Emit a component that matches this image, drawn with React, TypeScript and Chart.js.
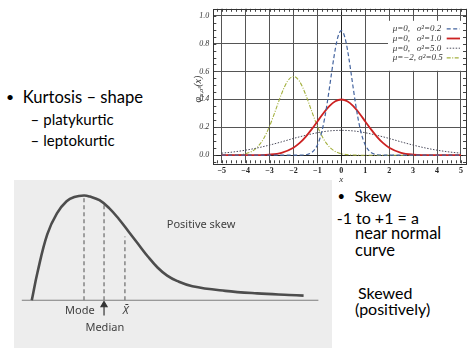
import React, { useEffect, useRef } from "react";
import { Chart, registerables } from "chart.js";

Chart.register(...registerables);

// ---------- Top chart: normal density curves ----------
const xTickValues = [-5, -4, -3, -2, -1, 0, 1, 2, 3, 4, 5];
const yTickValues = [0, 0.2, 0.4, 0.6, 0.8, 1.0];

const seriesLabels = ["μ=0,   σ²=0.2", "μ=0,   σ²=1.0", "μ=0,   σ²=5.0", "μ=−2, σ²=0.5"];

const xSigma02 = [-5, -2, -1.6, -1.4, -1.2, -1, -0.9, -0.8, -0.7, -0.6, -0.5, -0.4, -0.3, -0.2, -0.1, 0, 0.1, 0.2, 0.3, 0.4, 0.5, 0.6, 0.7, 0.8, 0.9, 1, 1.2, 1.4, 1.6, 2, 5];
const ySigma02 = [0, 0, 0.0015, 0.0066, 0.0244, 0.0732, 0.118, 0.18, 0.262, 0.363, 0.478, 0.598, 0.712, 0.807, 0.87, 0.892, 0.87, 0.807, 0.712, 0.598, 0.478, 0.363, 0.262, 0.18, 0.118, 0.0732, 0.0244, 0.0066, 0.0015, 0, 0];

const xSigma1 = [-5, -4, -3.5, -3, -2.5, -2, -1.75, -1.5, -1.25, -1, -0.75, -0.5, -0.25, 0, 0.25, 0.5, 0.75, 1, 1.25, 1.5, 1.75, 2, 2.5, 3, 3.5, 4, 5];
const ySigma1 = [0, 0.0001, 0.0009, 0.0044, 0.0175, 0.054, 0.0863, 0.13, 0.183, 0.242, 0.301, 0.352, 0.387, 0.399, 0.387, 0.352, 0.301, 0.242, 0.183, 0.13, 0.0863, 0.054, 0.0175, 0.0044, 0.0009, 0.0001, 0];

const xSigma5 = [-5, -4.5, -4, -3.5, -3, -2.5, -2, -1.5, -1, -0.5, 0, 0.5, 1, 1.5, 2, 2.5, 3, 3.5, 4, 4.5, 5];
const ySigma5 = [0.0146, 0.0235, 0.036, 0.0524, 0.0725, 0.0955, 0.12, 0.142, 0.161, 0.174, 0.178, 0.174, 0.161, 0.142, 0.12, 0.0955, 0.0725, 0.0524, 0.036, 0.0235, 0.0146];

const xMuMinus2 = [-5, -4.5, -4, -3.75, -3.5, -3.25, -3, -2.75, -2.5, -2.25, -2, -1.75, -1.5, -1.25, -1, -0.75, -0.5, -0.25, 0, 0.5, 1, 5];
const yMuMinus2 = [0.0001, 0.0011, 0.0103, 0.0264, 0.0595, 0.118, 0.208, 0.321, 0.439, 0.53, 0.564, 0.53, 0.439, 0.321, 0.208, 0.118, 0.0595, 0.0264, 0.0103, 0.0011, 0.0001, 0];

// ---------- Bottom figure: positive skew ----------
const skewX = [1.1, 1.7, 2.7, 3.7, 4.7, 5.5, 6.5, 7.1, 8.1, 9.1, 10.1, 11.1, 12.1, 13.1, 14.1, 15.1, 16.1, 17.7, 21.1, 24.4, 27.7, 29.2];
const skewY = [0, 0.27, 0.63, 0.83, 0.945, 0.985, 1.0, 0.99, 0.955, 0.88, 0.776, 0.657, 0.537, 0.418, 0.313, 0.235, 0.185, 0.134, 0.09, 0.066, 0.051, 0.045];
const baselineX = [0.07, 30.73];
const markerX = [6.5, 8.57, 10.73];
const markerTop = [1.0, 0.91, 0.61];
const medianArrowY = [-0.146, -0.045];
const skewLabels = ["Mode", "X̄", "Median", "Positive skew"];
const skewLabelX = [6.07, 10.8, 8.65, 18.6];
const skewLabelY = [-0.104, -0.104, -0.26, 0.716];

const pts = (xs: number[], ys: number[]) => xs.map((x, i) => ({ x, y: ys[i] }));

const SERIF = '"Liberation Serif", "DejaVu Serif", serif';

const topDecor = {
  id: "topDecor",
  afterDatasetsDraw(chart: any) {
    const { ctx, chartArea: a } = chart;
    const boxL = a.right - 78;
    const boxT = a.top + 12;
    ctx.save();
    ctx.fillStyle = "#ffffff";
    ctx.fillRect(boxL, boxT, 78, 50);
    ctx.font = `italic 9px ${SERIF}`;
    ctx.textBaseline = "middle";
    ctx.textAlign = "left";
    chart.data.datasets.forEach((ds: any, i: number) => {
      const y = boxT + 8 + i * 9.7;
      ctx.fillStyle = "#333";
      ctx.fillText(ds.label, boxL + 4.7, y);
      ctx.strokeStyle = ds.borderColor;
      ctx.lineWidth = ds.borderWidth;
      ctx.setLineDash(ds.borderDash || []);
      ctx.beginPath();
      ctx.moveTo(boxL + 58.7, y);
      ctx.lineTo(boxL + 72, y);
      ctx.stroke();
    });
    ctx.restore();
  },
  afterDraw(chart: any) {
    const { ctx, chartArea: a, scales } = chart;
    const xs = scales.x;
    const ys = scales.y;
    ctx.save();
    // minor ticks
    ctx.strokeStyle = "#444";
    ctx.lineWidth = 1;
    ctx.beginPath();
    for (let v = -5.2; v <= 5.21; v += 0.2) {
      const px = Math.round(xs.getPixelForValue(v)) + 0.5;
      ctx.moveTo(px, a.bottom);
      ctx.lineTo(px, a.bottom - 3);
      ctx.moveTo(px, a.top);
      ctx.lineTo(px, a.top + 3);
    }
    for (let v = -0.05; v <= 1.051; v += 0.05) {
      const py = Math.round(ys.getPixelForValue(v)) + 0.5;
      ctx.moveTo(a.left, py);
      ctx.lineTo(a.left + 3, py);
      ctx.moveTo(a.right, py);
      ctx.lineTo(a.right - 3, py);
    }
    ctx.stroke();
    // frame
    ctx.strokeStyle = "#333";
    ctx.strokeRect(Math.round(a.left) + 0.5, Math.round(a.top) + 0.5, Math.round(a.right - a.left), Math.round(a.bottom - a.top));
    // x title
    ctx.fillStyle = "#333";
    ctx.font = `italic 9px ${SERIF}`;
    ctx.textAlign = "center";
    ctx.textBaseline = "middle";
    ctx.fillText("x", xs.getPixelForValue(0), a.bottom + 16.7);
    // y title with subscript
    ctx.translate(a.left - 15.6, (a.top + a.bottom) / 2 + 3);
    ctx.rotate(-Math.PI / 2);
    ctx.textAlign = "left";
    ctx.textBaseline = "alphabetic";
    const bigFont = `italic 10px ${SERIF}`;
    const subFont = `italic 6.5px ${SERIF}`;
    ctx.font = bigFont;
    const w1 = ctx.measureText("φ").width;
    const w3 = ctx.measureText("(x)").width;
    ctx.font = subFont;
    const w2 = ctx.measureText("μ,σ²").width;
    let x0 = -(w1 + w2 + w3) / 2;
    ctx.font = bigFont;
    ctx.fillText("φ", x0, 3);
    x0 += w1;
    ctx.font = subFont;
    ctx.fillText("μ,σ²", x0, 5.5);
    x0 += w2;
    ctx.font = bigFont;
    ctx.fillText("(x)", x0, 3);
    ctx.restore();
  },
};

const skewDecor = {
  id: "skewDecor",
  beforeDraw(chart: any) {
    const { ctx, width, height } = chart;
    ctx.save();
    ctx.fillStyle = "#ededed";
    ctx.fillRect(0, 0, width, height);
    ctx.restore();
  },
  afterDraw(chart: any) {
    const { ctx, scales } = chart;
    ctx.save();
    ctx.fillStyle = "#3f3f3f";
    ctx.textAlign = "center";
    ctx.textBaseline = "middle";
    skewLabels.forEach((t, i) => {
      ctx.font = i === 1 ? 'italic 11px "Noto Sans", sans-serif' : '11px "Noto Sans", sans-serif';
      ctx.fillText(t, scales.x.getPixelForValue(skewLabelX[i]), scales.y.getPixelForValue(skewLabelY[i]));
    });
    ctx.restore();
  },
};

function TopChart() {
  const ref = useRef<HTMLCanvasElement>(null);
  useEffect(() => {
    const gridColor = (c: any) => (c.tick && c.tick.value === 0 ? "#222" : "#555555");
    const chart = new Chart(ref.current!, {
      type: "line",
      data: {
        datasets: [
          { label: seriesLabels[0], data: pts(xSigma02, ySigma02), borderColor: "#44649f", borderWidth: 1.2, borderDash: [4, 2.5], pointRadius: 0, cubicInterpolationMode: "monotone" },
          { label: seriesLabels[1], data: pts(xSigma1, ySigma1), borderColor: "#cc2222", borderWidth: 1.8, pointRadius: 0, cubicInterpolationMode: "monotone" },
          { label: seriesLabels[2], data: pts(xSigma5, ySigma5), borderColor: "#4a4a5a", borderWidth: 1, borderDash: [1.5, 1.5], pointRadius: 0, cubicInterpolationMode: "monotone" },
          { label: seriesLabels[3], data: pts(xMuMinus2, yMuMinus2), borderColor: "#a3b03e", borderWidth: 1.1, borderDash: [4, 1.5, 1, 1.5], pointRadius: 0, cubicInterpolationMode: "monotone" },
        ],
      } as any,
      options: {
        responsive: false,
        maintainAspectRatio: false,
        animation: false,
        layout: { padding: { left: 0, right: 8, top: 4, bottom: 0 } },
        plugins: { legend: { display: false }, tooltip: { enabled: false } },
        scales: {
          x: {
            type: "linear",
            min: -5.35,
            max: 5.21,
            afterFit: (s: any) => { s.height = 26.7; },
            afterBuildTicks: (s: any) => { s.ticks = xTickValues.map((v) => ({ value: v })); },
            grid: { color: gridColor, lineWidth: 1, drawTicks: false },
            border: { display: false },
            ticks: {
              padding: 3,
              color: "#222",
              font: { family: SERIF, size: 8, weight: "bold" },
              callback: (v: any) => (v < 0 ? "−" + Math.abs(v) : String(v)),
            },
          },
          y: {
            type: "linear",
            min: -0.058,
            max: 1.049,
            afterFit: (s: any) => { s.width = 33.3; },
            afterBuildTicks: (s: any) => { s.ticks = yTickValues.map((v) => ({ value: v })); },
            grid: { color: gridColor, lineWidth: 1, drawTicks: false },
            border: { display: false },
            ticks: {
              padding: 4,
              color: "#333",
              font: { family: SERIF, size: 8, style: "italic" },
              callback: (v: any) => Number(v).toFixed(1),
            },
          },
        },
      } as any,
      plugins: [topDecor],
    });
    return () => chart.destroy();
  }, []);
  return <canvas ref={ref} width={294} height={190} style={{ position: "absolute", left: 180, top: 0, width: 294, height: 190 }} />;
}

function SkewChart() {
  const ref = useRef<HTMLCanvasElement>(null);
  useEffect(() => {
    const dashed = markerX.map((x, i) => ({
      data: [{ x, y: 0 }, { x, y: markerTop[i] }],
      borderColor: "#6a6a6a",
      borderWidth: 1.2,
      borderDash: [4, 3],
      pointRadius: 0,
    }));
    const chart = new Chart(ref.current!, {
      type: "line",
      data: {
        datasets: [
          { data: pts(skewX, skewY), borderColor: "#4d4d4d", borderWidth: 2.6, pointRadius: 0, tension: 0.4 },
          { data: baselineX.map((x) => ({ x, y: 0 })), borderColor: "#7d7d7d", borderWidth: 1.1, pointRadius: 0 },
          ...dashed,
          {
            data: medianArrowY.map((y) => ({ x: markerX[1], y })),
            borderColor: "#333",
            backgroundColor: "#333",
            borderWidth: 1.2,
            pointRadius: [0, 3.5],
            pointStyle: "triangle",
          },
        ],
      } as any,
      options: {
        responsive: false,
        maintainAspectRatio: false,
        animation: false,
        layout: { padding: 0 },
        plugins: { legend: { display: false }, tooltip: { enabled: false } },
        scales: {
          x: { type: "linear", display: false, min: -0.2, max: 31.6 },
          y: { type: "linear", display: false, min: -0.4056, max: 1.0985 },
        },
      } as any,
      plugins: [skewDecor],
    });
    return () => chart.destroy();
  }, []);
  return <canvas ref={ref} width={318} height={168} style={{ position: "absolute", left: 14, top: 180, width: 318, height: 168 }} />;
}

function T({ x, base, size, children }: { x: number; base: number; size: number; children: React.ReactNode }) {
  return (
    <div
      style={{
        position: "absolute",
        left: x,
        top: base - size * 0.887,
        fontSize: size,
        lineHeight: `${size}px`,
        whiteSpace: "pre",
        color: "#000",
        fontFamily: 'Lato, "Noto Sans", sans-serif',
      }}
    >
      {children}
    </div>
  );
}

export default function App() {
  useEffect(() => {
    document.body.style.margin = "0";
  }, []);
  return (
    <div style={{ position: "absolute", left: 0, top: 0, width: 474, height: 355, background: "#fff", overflow: "hidden" }}>
      <T x={6} base={102.3} size={14}>•</T>
      <T x={22.7} base={103.3} size={16.6}>Kurtosis – shape</T>
      <T x={30.5} base={125} size={15}>–</T>
      <T x={43.3} base={125} size={15}>platykurtic</T>
      <T x={30.5} base={146.7} size={15}>–</T>
      <T x={43.3} base={146.7} size={15}>leptokurtic</T>

      <T x={337.5} base={201.8} size={13}>•</T>
      <T x={354.5} base={202.3} size={16}>Skew</T>
      <T x={336.7} base={223.7} size={16}>-1 to +1 = a</T>
      <T x={355} base={240} size={16.5}>near normal</T>
      <T x={355} base={256.7} size={16.5}>curve</T>
      <T x={358} base={299} size={16}>Skewed</T>
      <T x={355} base={315} size={16}>(positively)</T>

      <TopChart />
      <SkewChart />
    </div>
  );
}
